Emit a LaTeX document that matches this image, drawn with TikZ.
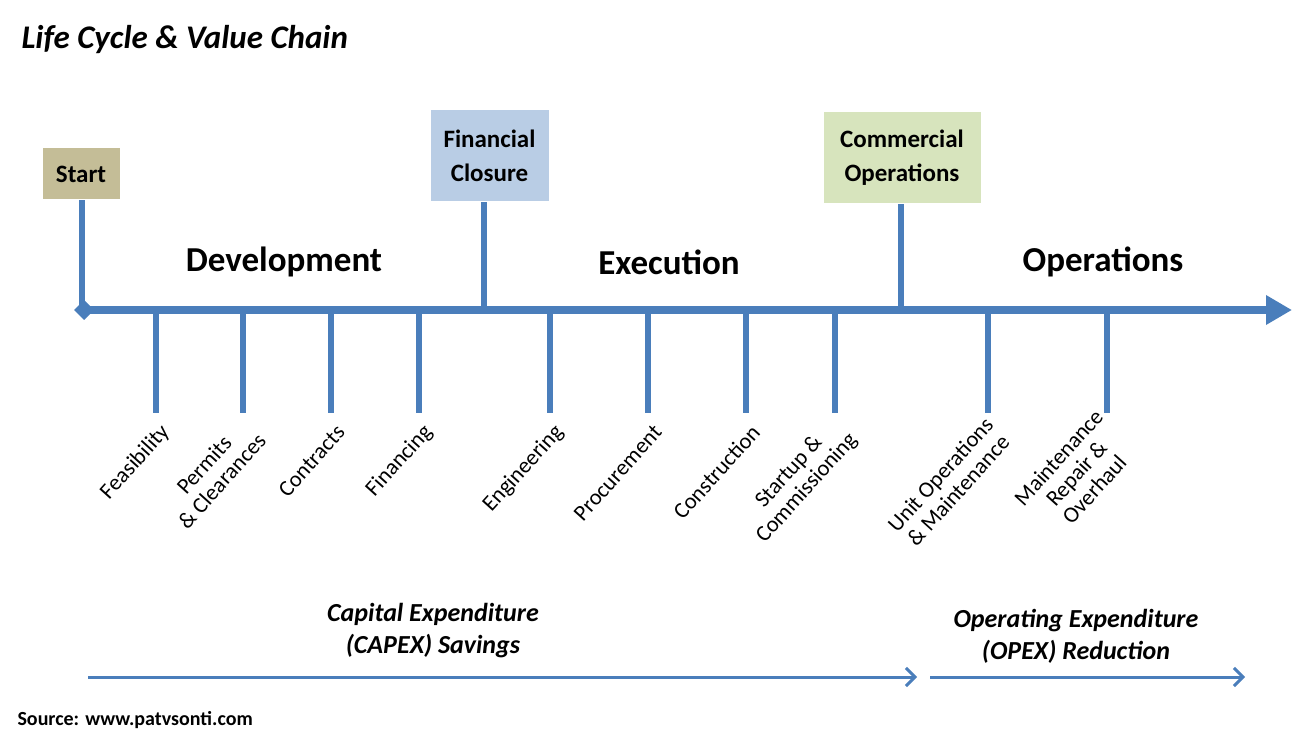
\documentclass[tikz,border=0pt]{standalone}
\usepackage{fontspec}
\setmainfont{Carlito}
\usetikzlibrary{arrows.meta}
\definecolor{lb}{HTML}{4A7EBB}
\definecolor{tan}{HTML}{C4BD97}
\definecolor{fcb}{HTML}{B9CDE5}
\definecolor{cog}{HTML}{D7E4BD}
\tikzset{
 ms/.style={draw=white,line width=1pt,font=\fontsize{25}{28}\selectfont\bfseries,align=center,inner sep=0pt},
 tick/.style={lb,line width=6pt},
 phase/.style={font=\fontsize{35}{38}\selectfont\bfseries},
 act/.style={rotate=48,anchor=east,align=center,font=\fontsize{22.5}{24}\selectfont},
 exp/.style={font=\fontsize{26}{32}\selectfont\bfseries\itshape,align=center},
 spend/.style={lb,line width=3pt,-{Straight Barb[length=9pt,width=18pt,line width=3pt]}}
}
\begin{document}
\begin{tikzpicture}[x=1pt,y=1pt]
\useasboundingbox (0,0) rectangle (1315,-743);
\node[anchor=west,font=\fontsize{33}{36}\selectfont\bfseries\itshape] (title) at (18,-40) {Life Cycle \& Value Chain};
% boxes
\node[ms,fill=tan,minimum width=78,minimum height=52] (start) at (81,-174) {Start};
\node[ms,fill=fcb,minimum width=119,minimum height=92] (fc) at (489.5,-156) {Financial\\[6pt]Closure};
\node[ms,fill=cog,minimum width=158,minimum height=92] (co) at (902,-158) {Commercial\\[6pt]Operations};
% main line
\coordinate (l0) at (82,-310);
\coordinate (l1) at (1292,-310);
\draw[lb,line width=8pt,-{Triangle[length=26pt,width=28pt]}] (l0) -- (l1);
\fill[lb] (74,-310) -- (84,-300) -- (94,-310) -- (84,-320) -- cycle;
\draw[tick] (start.south -| 82,0) -- (82,-310);
\draw[tick] (fc.south -| 484,0) -- (484,-310);
\draw[tick] (co.south -| 901,0) -- (901,-310);
% phases
\node[phase] (dev) at (284,-262) {Development};
\node[phase] (exe) at (669,-262) {Execution};
\node[phase] (ops) at (1103,-262) {Operations};
% ticks and labels
\foreach \x/\t/\n in {156/Feasibility/a,243/Permits\\\& Clearances/b,331/Contracts/c,419/Financing/d,550/Engineering/e,648/Procurement/f,746/Construction/g,835/Startup \&\\Commissioning/h,988/Unit Operations\\\& Maintenance/i,1107/Maintenance\\Repair \&\\Overhaul/j}{
  \coordinate (t\n) at (\x,-413);
  \draw[tick] (\x,-310) -- (t\n);
  \node[act] (lab\n) at (\x+12,-426) {\t};
}
% expenditure
\node[exp] (capex) at (433,-631) {Capital Expenditure\\(CAPEX) Savings};
\node[exp] (opex) at (1076,-636) {Operating Expenditure\\(OPEX) Reduction};
\coordinate (c0) at (88,-677); \coordinate (c1) at (917,-677);
\coordinate (o0) at (930,-677); \coordinate (o1) at (1245,-677);
\draw[spend] (c0) -- (c1);
\draw[spend] (o0) -- (o1);
\node[anchor=west,font=\fontsize{20}{22}\selectfont\bfseries] (src) at (14,-720) {Source: www.patvsonti.com};
\end{tikzpicture}
\end{document}
